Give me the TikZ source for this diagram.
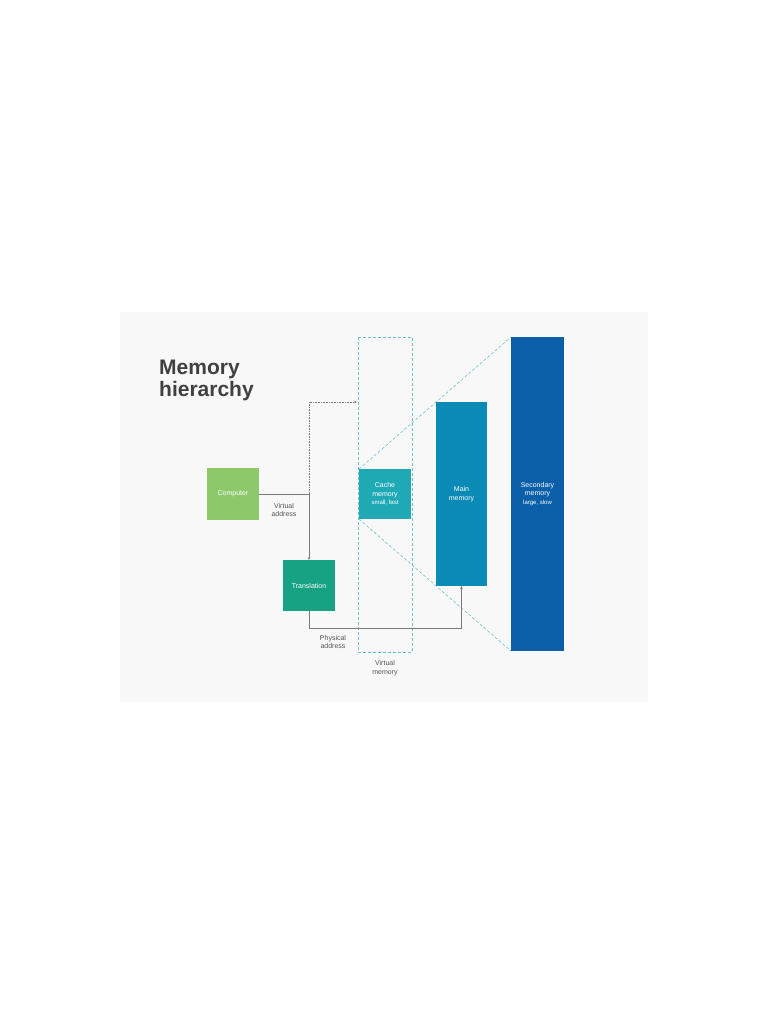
\documentclass[tikz,border=0pt]{standalone}
\usepackage{fontspec}
\setmainfont{Liberation Sans}
\usetikzlibrary{arrows.meta}
\definecolor{bgpanel}{HTML}{F8F8F8}
\definecolor{cgreen}{HTML}{8DC86A}
\definecolor{tgreen}{HTML}{17A383}
\definecolor{cteal}{HTML}{1FA9B5}
\definecolor{mblue}{HTML}{0A8AB5}
\definecolor{sblue}{HTML}{0B5EA8}
\definecolor{dashc}{HTML}{6FC3C8}
\definecolor{linec}{HTML}{7A7A7A}
\definecolor{textc}{HTML}{555555}
\begin{document}
\begin{tikzpicture}[x=1pt,y=-1pt,
  blk/.style={draw=none,text=white,font=\fontsize{7}{8.5}\selectfont,align=center,inner sep=0pt},
  lbl/.style={text=textc,font=\fontsize{7}{8.5}\selectfont,align=center},
  conn/.style={draw=linec,line width=0.6pt,-{Stealth[length=3pt,width=2.5pt]}},
  dconn/.style={draw=linec,line width=0.6pt,densely dotted,-{Stealth[length=3pt,width=2.5pt]}},
  vdash/.style={draw=dashc,line width=0.6pt,densely dashed}]
\useasboundingbox (0,0) rectangle (768,1024);
\fill[bgpanel] (120,312) rectangle (648,702);
\node[anchor=north west,text=black!75,font=\fontsize{21}{22}\selectfont\bfseries,align=left,inner sep=0pt] (title) at (159,360) {Memory\\hierarchy};
% virtual memory box
\draw[vdash] (358,337) rectangle (412,652);
% blocks
\fill[cgreen] (207,468) rectangle (259,520);
\node[blk] (comp) at (233,494) {Computer};
\coordinate (compE) at (259,494);
\fill[tgreen] (283,560) rectangle (335,611);
\node[blk] (trans) at (309,585.5) {Translation};
\coordinate (transN) at (309,560);
\coordinate (transS) at (309,611);
\fill[cteal] (359,469) rectangle (411,519);
\node[blk] (cache) at (385,494) {Cache\\memory\\{\fontsize{6}{7}\selectfont small, fast}};
\fill[mblue] (436,402) rectangle (487,586);
\node[blk] (main) at (461.5,494) {Main\\memory};
\coordinate (mainS) at (461.5,586);
\fill[sblue] (511,337) rectangle (564,651);
\node[blk] (sec) at (537.5,494) {Secondary\\memory\\{\fontsize{6}{7}\selectfont large, slow}};
% dashed funnel
\coordinate (cNW) at (359,469); \coordinate (cSW) at (359,519);
\coordinate (sNW) at (511,337); \coordinate (sSW) at (511,651);
\draw[vdash] (cNW) -- (sNW);
\draw[vdash] (cSW) -- (sSW);
% connectors
\coordinate (j1) at (309,494);
\coordinate (vmW) at (357,402);
\draw[conn] (compE) -- (j1) -- (transN);
\draw[dconn] (j1) -- (309,402) -- (vmW);
\draw[conn] (transS) -- (309,628) -- (461.5,628) -- (mainS);
% labels
\node[lbl] (va) at (284,510) {Virtual\\address};
\node[lbl] (pa) at (333,642) {Physical\\address};
\node[lbl] (vm) at (385,668) {Virtual\\memory};
\end{tikzpicture}
\end{document}
